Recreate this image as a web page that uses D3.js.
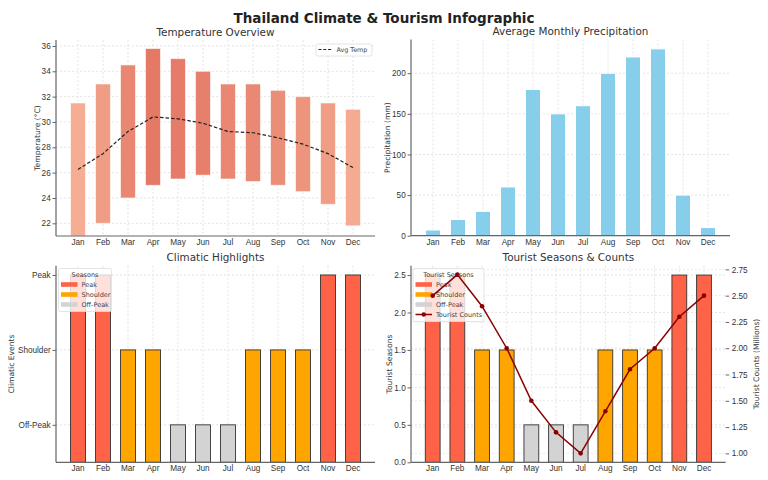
<!DOCTYPE html>
<html>
<head>
<meta charset="utf-8">
<script src="https://cdn.jsdelivr.net/npm/d3@7"></script>
<style>
  body { margin: 0; background: #fff; }
  svg { font-family: "DejaVu Sans", sans-serif; }
  .tick text { fill: #333; font-size: 8.2px; }
  .tick line { stroke: #666; }
  .domain { stroke: #666; }
</style>
</head>
<body>
<div id="chart"></div>
<script>
// data
const months = ["Jan", "Feb", "Mar", "Apr", "May", "Jun", "Jul", "Aug", "Sep", "Oct", "Nov", "Dec"];
const tempMin = [21, 22, 24, 25, 25.5, 25.8, 25.5, 25.3, 25, 24.5, 23.5, 21.8];
const tempMax = [31.5, 33, 34.5, 35.8, 35, 34, 33, 33, 32.5, 32, 31.5, 31];
const tempAvg = [26.25, 27.5, 29.25, 30.4, 30.25, 29.9, 29.25, 29.15, 28.75, 28.25, 27.5, 26.4];
const precip = [7, 20, 30, 60, 180, 150, 160, 200, 220, 230, 50, 10];
const seasons = ["Peak", "Peak", "Shoulder", "Shoulder", "Off-Peak", "Off-Peak", "Off-Peak",
  "Shoulder", "Shoulder", "Shoulder", "Peak", "Peak"];
const seasonNames = ["Peak", "Shoulder", "Off-Peak"];
const seasonColors = ["#ff6347", "#ffa500", "#d3d3d3"];
const climateLevel = { "Peak": 3, "Shoulder": 2, "Off-Peak": 1 };
const touristLevel = { "Peak": 2.5, "Shoulder": 1.5, "Off-Peak": 0.5 };
const touristCounts = [2.5, 2.7, 2.4, 2.0, 1.5, 1.2, 1.0, 1.4, 1.8, 2.0, 2.3, 2.5];

const W = 768, H = 480;
const svg = d3.select("#chart").append("svg").attr("width", W).attr("height", H);

const seasonColor = d3.scaleOrdinal().domain(seasonNames).range(seasonColors);

svg.append("text")
  .attr("x", 384).attr("y", 23)
  .attr("text-anchor", "middle")
  .style("font-size", "13.5px").style("font-weight", "bold").style("fill", "#222")
  .text("Thailand Climate & Tourism Infographic");

///////////////////////////////////////////////////////////////////////////
//////////////////////////// helpers //////////////////////////////////////
///////////////////////////////////////////////////////////////////////////

function bandX(l, r) {
  return d3.scaleBand().domain(months).range([l, r]).paddingInner(0.4).paddingOuter(0.58);
}

function panel(box, x, y, yTicks, yFormat, title, ylabel, ylabelX) {
  const g = svg.append("g");
  // grid
  g.append("g").selectAll("line").data(months).join("line")
    .attr("x1", d => x(d) + x.bandwidth() / 2).attr("x2", d => x(d) + x.bandwidth() / 2)
    .attr("y1", box.t).attr("y2", box.b)
    .attr("stroke", "#ddd").attr("stroke-width", 0.8).attr("stroke-dasharray", "2,2");
  g.append("g").selectAll("line").data(yTicks).join("line")
    .attr("x1", box.l).attr("x2", box.r)
    .attr("y1", d => y(d)).attr("y2", d => y(d))
    .attr("stroke", "#ddd").attr("stroke-width", 0.8).attr("stroke-dasharray", "2,2");

  const marks = svg.append("g");

  const xa = svg.append("g").attr("transform", `translate(0,${box.b})`)
    .call(d3.axisBottom(x).tickSize(0).tickPadding(3));
  xa.select(".domain").attr("d", `M${box.l},0H${box.r}`).attr("stroke-width", 1.2);

  const ya = svg.append("g").attr("transform", `translate(${box.l},0)`)
    .call(d3.axisLeft(y).tickValues(yTicks).tickFormat(yFormat).tickSize(3.5).tickPadding(1.8));
  ya.select(".domain").attr("d", `M0,${box.t}V${box.b}`).attr("stroke-width", 1.2);

  svg.append("text")
    .attr("x", (box.l + box.r) / 2).attr("y", box.t - 4.5)
    .attr("text-anchor", "middle")
    .style("font-size", "10.4px").style("fill", "#333")
    .text(title);

  svg.append("text")
    .attr("transform", `translate(${ylabelX},${(box.t + box.b) / 2}) rotate(-90)`)
    .attr("text-anchor", "middle")
    .style("font-size", "7.6px").style("fill", "#333")
    .text(ylabel);

  return marks;
}

function legend(x0, y0, w, title, items) {
  const g = svg.append("g");
  g.append("rect").attr("x", x0).attr("y", y0).attr("width", w)
    .attr("height", 13 + items.length * 10)
    .attr("rx", 2).attr("fill", "#fff").attr("fill-opacity", 0.8)
    .attr("stroke", "#ddd").attr("stroke-width", 0.8);
  g.append("text").attr("x", x0 + w / 2).attr("y", y0 + 8.5)
    .attr("text-anchor", "middle")
    .style("font-size", "6.5px").style("fill", "#444").text(title);
  items.forEach((it, i) => {
    const cy = y0 + 16 + i * 10;
    if (it.line) {
      g.append("line").attr("x1", x0 + 2.5).attr("x2", x0 + 19).attr("y1", cy).attr("y2", cy)
        .attr("stroke", it.color).attr("stroke-width", 1.5);
      g.append("circle").attr("cx", x0 + 10.7).attr("cy", cy).attr("r", 2.2).attr("fill", it.color);
    } else {
      g.append("rect").attr("x", x0 + 2.5).attr("y", cy - 2.3).attr("width", 16.5).attr("height", 4.6)
        .attr("fill", it.color);
    }
    g.append("text").attr("x", x0 + 23).attr("y", cy + 2.4)
      .style("font-size", "6.5px").style("fill", "#444").text(it.name);
  });
}

///////////////////////////////////////////////////////////////////////////
//////////////////////////// panels ///////////////////////////////////////
///////////////////////////////////////////////////////////////////////////

// temperature
{
  const box = { l: 56, r: 375, t: 40, b: 236 };
  const x = bandX(box.l, box.r);
  const y = d3.scaleLinear().domain([21, 36.47]).range([box.b, box.t]);
  const heat = d3.scaleLinear().domain([26.25, 30.4]).range(["#f5ad93", "#e47966"]);
  const marks = panel(box, x, y, [22, 24, 26, 28, 30, 32, 34, 36], d3.format("d"),
    "Temperature Overview", "Temperature (°C)", 39.5);
  marks.selectAll("rect").data(months).join("rect")
    .attr("x", d => x(d)).attr("width", x.bandwidth())
    .attr("y", (d, i) => y(tempMax[i]))
    .attr("height", (d, i) => y(tempMin[i]) - y(tempMax[i]))
    .attr("fill", (d, i) => heat(tempAvg[i]))
    .attr("stroke", "#fff").attr("stroke-opacity", 0.6).attr("stroke-width", 1);
  const line = d3.line().x((d, i) => x(months[i]) + x.bandwidth() / 2).y(d => y(d));
  marks.append("path").datum(tempAvg).attr("d", line)
    .attr("fill", "none").attr("stroke", "#222").attr("stroke-width", 1.2)
    .attr("stroke-dasharray", "3.5,2");
  const lg = svg.append("g");
  lg.append("rect").attr("x", 316).attr("y", 44).attr("width", 56).attr("height", 12)
    .attr("rx", 2).attr("fill", "#fff").attr("stroke", "#ddd").attr("stroke-width", 0.8);
  lg.append("line").attr("x1", 318.5).attr("x2", 332).attr("y1", 49.5).attr("y2", 49.5)
    .attr("stroke", "#222").attr("stroke-width", 1.2).attr("stroke-dasharray", "3,1.8");
  lg.append("text").attr("x", 336.5).attr("y", 52)
    .style("font-size", "6.4px").style("fill", "#444").text("Avg Temp");
}

// precipitation
{
  const box = { l: 411, r: 730, t: 39.5, b: 235.7 };
  const x = bandX(box.l, box.r);
  const y = d3.scaleLinear().domain([0, 241.5]).range([box.b, box.t]);
  const marks = panel(box, x, y, [0, 50, 100, 150, 200], d3.format("d"),
    "Average Monthly Precipitation", "Precipitation (mm)", 390);
  marks.selectAll("rect").data(months).join("rect")
    .attr("x", d => x(d)).attr("width", x.bandwidth())
    .attr("y", (d, i) => y(precip[i]))
    .attr("height", (d, i) => y(0) - y(precip[i]))
    .attr("fill", "#87ceeb")
    .attr("stroke", "#fff").attr("stroke-width", 1);
}

// climatic highlights
{
  const box = { l: 56, r: 375, t: 265.7, b: 462.3 };
  const x = bandX(box.l, box.r);
  const y = d3.scaleLinear().domain([0.5, 3.124]).range([box.b, box.t]);
  const labels = { 1: "Off-Peak", 2: "Shoulder", 3: "Peak" };
  const marks = panel(box, x, y, [1, 2, 3], d => labels[d],
    "Climatic Highlights", "Climatic Events", 13.7);
  marks.selectAll("rect").data(months).join("rect")
    .attr("x", d => x(d)).attr("width", x.bandwidth())
    .attr("y", (d, i) => y(climateLevel[seasons[i]]))
    .attr("height", (d, i) => box.b - y(climateLevel[seasons[i]]))
    .attr("fill", (d, i) => seasonColor(seasons[i]))
    .attr("stroke", "#333").attr("stroke-width", 0.9);
  legend(58.5, 268.5, 53, "Seasons",
    seasonNames.map(s => ({ name: s, color: seasonColor(s) })));
}

// tourist seasons & counts
{
  const box = { l: 411, r: 725.7, t: 265.7, b: 462.3 };
  const x = bandX(box.l, box.r);
  const y = d3.scaleLinear().domain([0, 2.625]).range([box.b, box.t]);
  const y2 = d3.scaleLinear().domain([0.915, 2.785]).range([box.b, box.t]);
  const marks = panel(box, x, y, [0, 0.5, 1, 1.5, 2, 2.5], d3.format(".1f"),
    "Tourist Seasons & Counts", "Tourist Seasons", 392);
  marks.selectAll("rect").data(months).join("rect")
    .attr("x", d => x(d)).attr("width", x.bandwidth())
    .attr("y", (d, i) => y(touristLevel[seasons[i]]))
    .attr("height", (d, i) => y(0) - y(touristLevel[seasons[i]]))
    .attr("fill", (d, i) => seasonColor(seasons[i]))
    .attr("stroke", "#333").attr("stroke-width", 0.9);

  // right axis + its grid
  const y2Ticks = [1, 1.25, 1.5, 1.75, 2, 2.25, 2.5, 2.75];
  svg.insert("g", ":first-child").selectAll("line").data(y2Ticks).join("line")
    .attr("x1", box.l).attr("x2", box.r)
    .attr("y1", d => y2(d)).attr("y2", d => y2(d))
    .attr("stroke", "#e4e4e4").attr("stroke-width", 0.8).attr("stroke-dasharray", "2,2");
  const ra = svg.append("g").attr("transform", `translate(${box.r},0)`)
    .call(d3.axisRight(y2).tickValues(y2Ticks).tickFormat(d3.format(".2f")).tickSize(3.5).tickPadding(2.5));
  ra.select(".domain").remove();
  svg.append("text")
    .attr("transform", `translate(759,${(box.t + box.b) / 2}) rotate(-90)`)
    .attr("text-anchor", "middle")
    .style("font-size", "7.6px").style("fill", "#333")
    .text("Tourist Counts (Millions)");

  // legend sits under the line (line belongs to the twin axis)
  legend(413, 268.5, 71, "Tourist Seasons",
    seasonNames.map(s => ({ name: s, color: seasonColor(s) }))
      .concat([{ name: "Tourist Counts", color: "#8b0000", line: true }]));

  const line = d3.line().x((d, i) => x(months[i]) + x.bandwidth() / 2).y(d => y2(d));
  const lg = svg.append("g");
  lg.append("path").datum(touristCounts).attr("d", line)
    .attr("fill", "none").attr("stroke", "#8b0000").attr("stroke-width", 1.5);
  lg.selectAll("circle").data(touristCounts).join("circle")
    .attr("cx", (d, i) => x(months[i]) + x.bandwidth() / 2).attr("cy", d => y2(d))
    .attr("r", 2.3).attr("fill", "#8b0000");
}
</script>
</body>
</html>
